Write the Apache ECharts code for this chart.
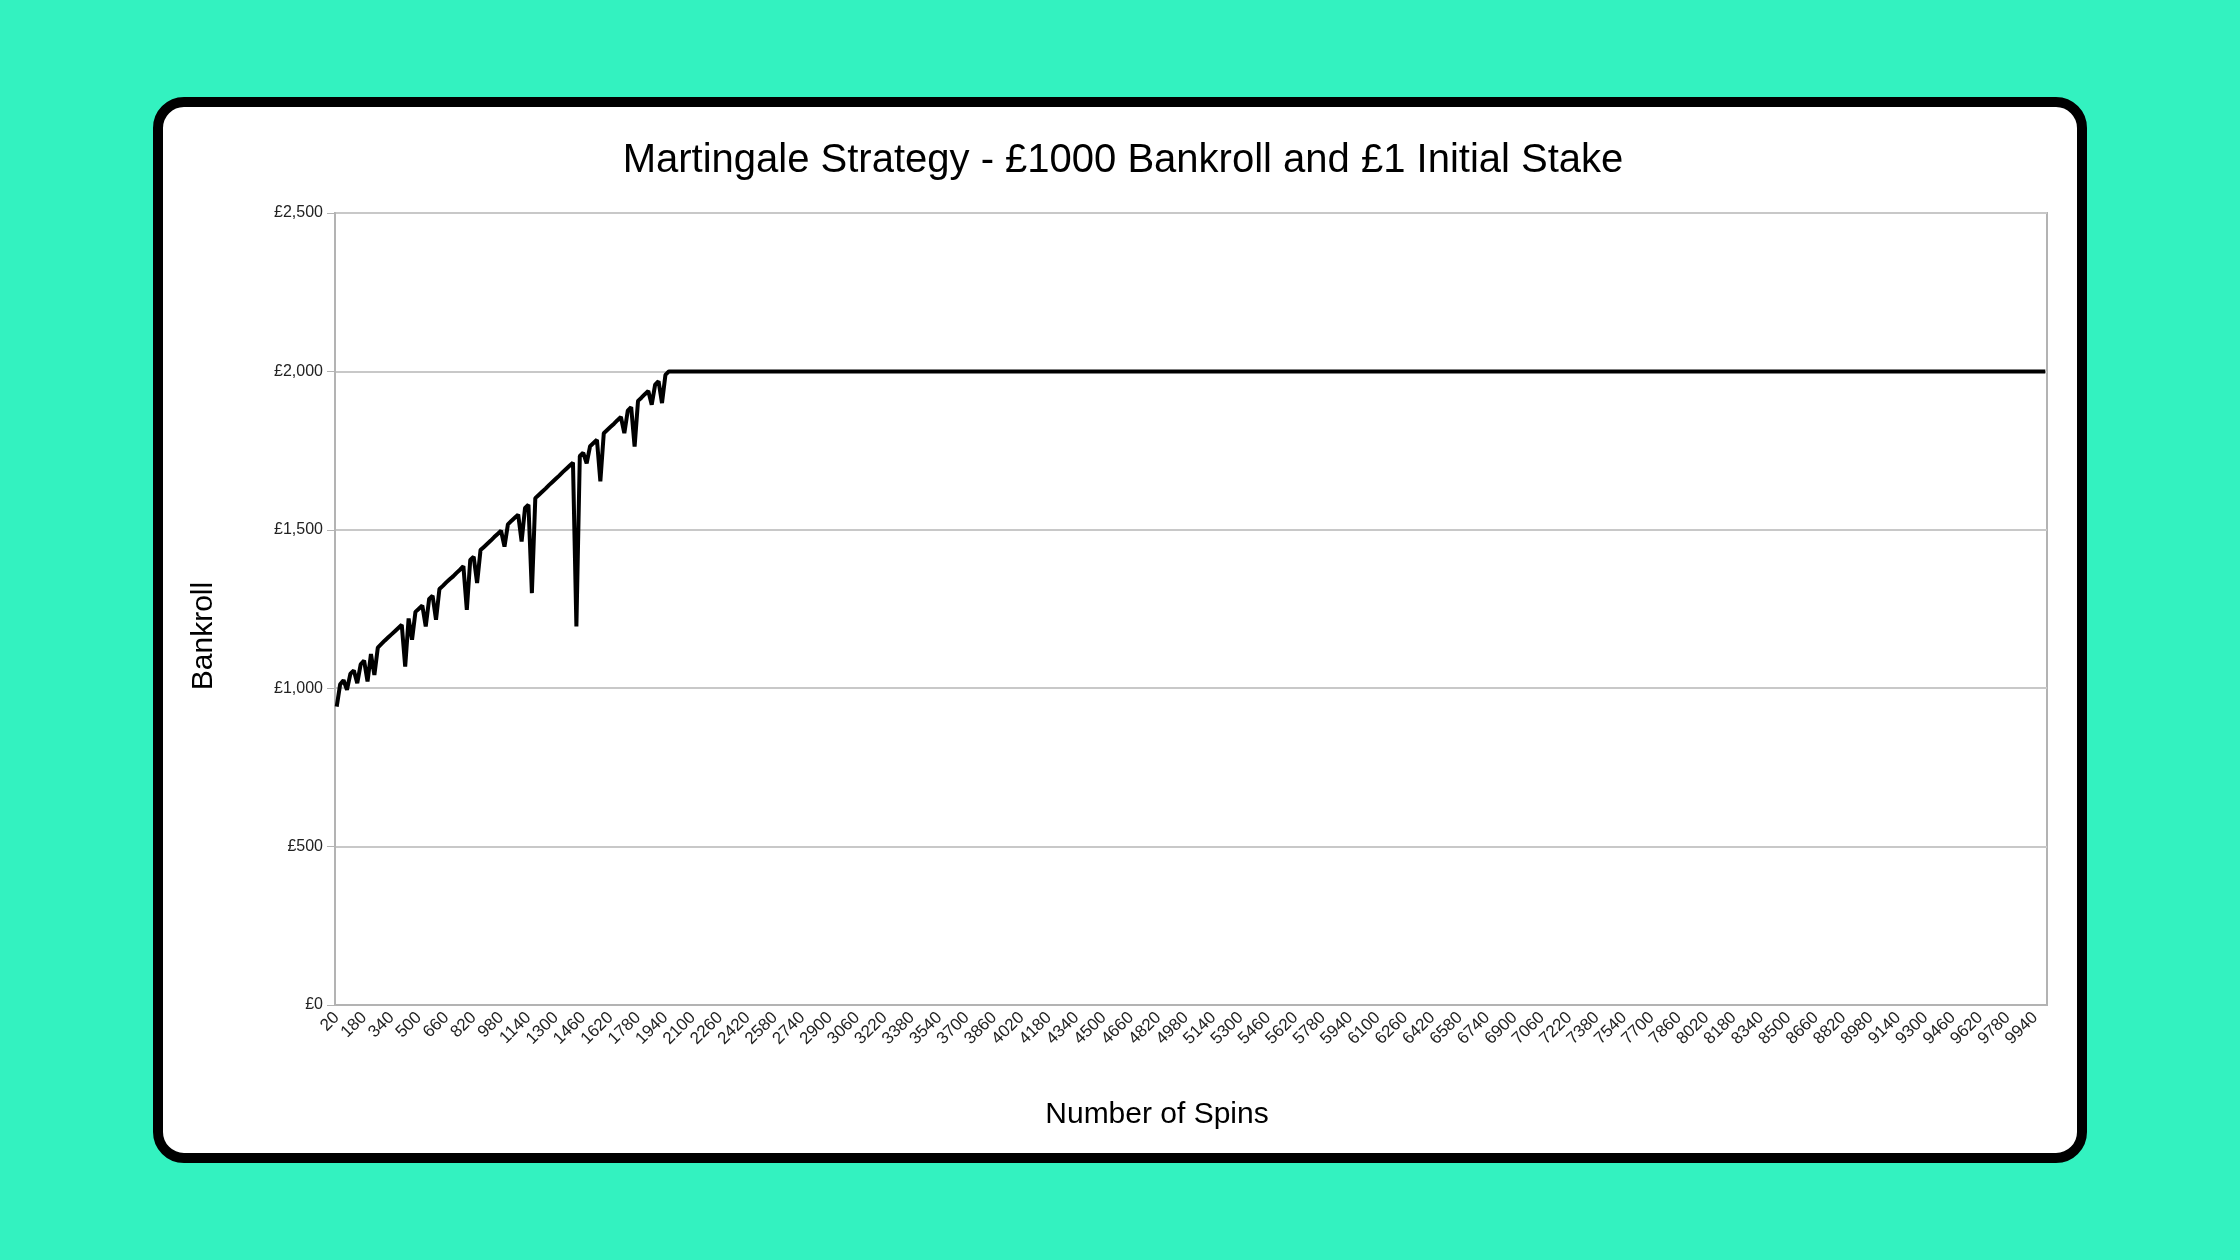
<!DOCTYPE html>
<html>
<head>
<meta charset="utf-8">
<script src="https://cdn.jsdelivr.net/npm/echarts@6/dist/echarts.min.js"></script>
<style>
  html, body { margin: 0; padding: 0; background: #33f2c0; }
  #chart { width: 2240px; height: 1260px; }
</style>
</head>
<body>
<div id="chart"></div>
<script>
// spin counts, 20 to 10000 in steps of 20
const spins = [];
for (let s = 20; s <= 10000; s += 20) spins.push(String(s));

// bankroll while climbing, then flat at target
const climb = [
  942, 1012, 1025, 995, 1046, 1056, 1016, 1075, 1087, 1021,
  1108, 1042, 1128, 1139, 1150, 1160, 1170, 1180, 1190, 1200,
  1068, 1220, 1153, 1241, 1251, 1261, 1195, 1282, 1292, 1216,
  1313, 1323, 1334, 1344, 1353, 1364, 1374, 1385, 1247, 1405,
  1415, 1332, 1436, 1446, 1456, 1466, 1477, 1487, 1497, 1447,
  1517, 1528, 1538, 1548, 1463, 1569, 1579, 1300, 1600, 1610,
  1620, 1630, 1641, 1651, 1661, 1671, 1682, 1692, 1702, 1712,
  1195, 1733, 1743, 1710, 1764, 1774, 1784, 1653, 1805, 1815,
  1825, 1835, 1846, 1856, 1805, 1876, 1887, 1763, 1907, 1917,
  1928, 1938, 1895, 1958, 1969, 1900, 1989, 2000
];
const target = 2000;
const bankroll = climb.concat(new Array(spins.length - climb.length).fill(target));

const yTicks = [0, 500, 1000, 1500, 2000, 2500];

const font = 'Liberation Sans';
const chart = echarts.init(document.getElementById('chart'));
chart.setOption({
  animation: false,
  graphic: [{
    type: 'rect',
    shape: { x: 158, y: 102, width: 1924, height: 1056, r: 26 },
    style: { fill: '#fff', stroke: '#000', lineWidth: 10 },
    z: -10
  }, {
    type: 'text', x: 1157, y: 1115,
    style: { text: 'Number of Spins', font: '30px "Liberation Sans"', fill: '#000', textAlign: 'center', textVerticalAlign: 'middle' }
  }, {
    type: 'text', x: 204, y: 636, rotation: Math.PI / 2,
    style: { text: 'Bankroll', font: '30px "Liberation Sans"', fill: '#000', textAlign: 'center', textVerticalAlign: 'middle' }
  }],
  title: {
    text: 'Martingale Strategy - £1000 Bankroll and £1 Initial Stake',
    left: 1118, top: 136, textAlign: 'center',
    textStyle: { fontFamily: font, fontSize: 40, fontWeight: 'normal', color: '#000' }
  },
  grid: { left: 335, right: 193, top: 213, bottom: 255, show: true, borderColor: '#b3b3b3', borderWidth: 2 },
  xAxis: {
    type: 'category',
    data: spins,
    boundaryGap: true,
    axisLine: { lineStyle: { color: '#b3b3b3', width: 2 } },
    axisTick: { interval: 0, length: 8, lineStyle: { color: '#b3b3b3' } },
    axisLabel: { interval: 7, rotate: 45, fontFamily: font, fontSize: 17, color: '#222', margin: 10 }
  },
  yAxis: {
    type: 'value',
    min: 0, max: 2500, interval: 500,
    axisLine: { show: true, lineStyle: { color: '#b3b3b3', width: 2 } },
    axisTick: { show: true, length: 8, lineStyle: { color: '#b3b3b3' } },
    splitLine: { lineStyle: { color: '#c8c8c8', width: 2 } },
    axisLabel: {
      fontFamily: font, fontSize: 16, color: '#222', margin: 12,
      formatter: v => yTicks.includes(v) ? '£' + v.toLocaleString('en-GB') : ''
    }
  },
  series: [{
    type: 'line',
    data: bankroll,
    showSymbol: false,
    lineStyle: { color: '#000', width: 4 }
  }]
});
</script>
</body>
</html>
